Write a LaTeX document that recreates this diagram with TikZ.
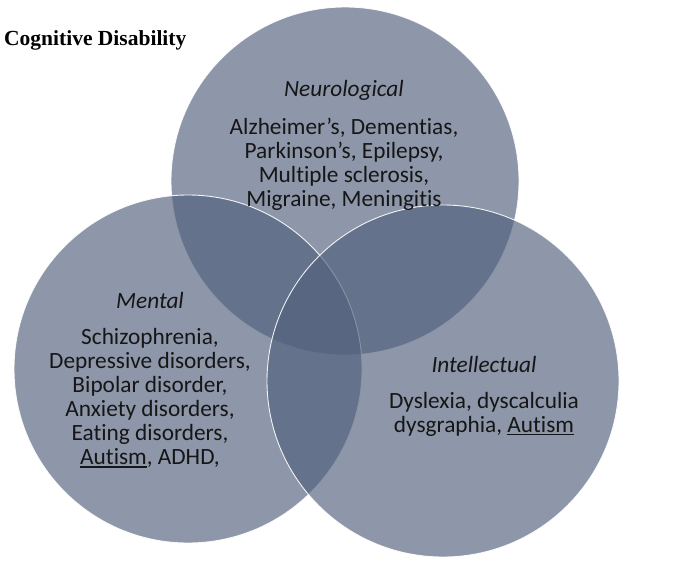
\documentclass[tikz,border=0pt]{standalone}
\usepackage{fontspec}
\setmainfont[Ligatures={NoCommon}]{Carlito}
\newfontfamily\titlefont{Liberation Serif}
\definecolor{vfill}{RGB}{80,95,123}
\definecolor{vtext}{RGB}{22,22,22}
\newcommand\myul[1]{\setbox0\hbox{#1}\rlap{\raisebox{-3.4pt}{\rule{\wd0}{1.8pt}}}\box0}
\begin{document}
\begin{tikzpicture}[x=1pt,y=-1pt,
  venn/.style={fill=vfill,fill opacity=0.65,draw=white,draw opacity=0.9,line width=0.9pt},
  head/.style={font=\fontsize{23.3}{24}\selectfont\itshape,text=vtext,inner sep=0pt},
  body/.style={font=\fontsize{23.3}{24}\selectfont,text=vtext,align=center,inner sep=0pt}]
\useasboundingbox (0,0) rectangle (685,578);
\path[venn] (345,181) circle[radius=174];
\path[venn] (188,369) circle[radius=174];
\path[venn] (443,381) circle[radius=176];
\node[anchor=west,inner sep=0pt,font=\titlefont\bfseries\fontsize{21.5}{24}\selectfont] (title) at (4,40) {Cognitive Disability};
\node[head] (nh) at (344,90) {Neurological};
\node[body] (nb) at (344,164) {Alzheimer’s, Dementias,\\Parkinson’s, Epilepsy,\\Multiple sclerosis,\\Migraine, Meningitis};
\node[head] (mh) at (150,300) {Mental};
\node[body] (mb) at (150,398) {Schizophrenia,\\Depressive disorders,\\Bipolar disorder,\\Anxiety disorders,\\Eating disorders,\\\myul{Autism}, ADHD,};
\node[head] (ih) at (484,364) {Intellectual};
\node[body] (ib) at (484,414) {Dyslexia, dyscalculia\\dysgraphia, \myul{Autism}};
\end{tikzpicture}
\end{document}
